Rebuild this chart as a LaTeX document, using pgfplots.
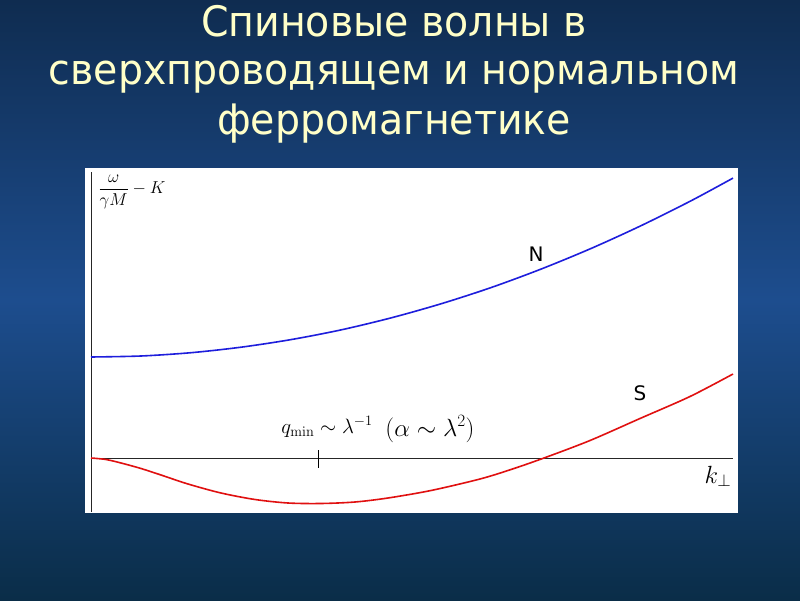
\documentclass[border=0pt]{standalone}
\usepackage[no-math]{fontspec}
\setmainfont{DejaVu Sans}
\newfontfamily\titlefont[FakeStretch=0.94]{DejaVu Sans}
\usepackage{pgfplots}
\pgfplotsset{compat=1.18}

\definecolor{bgtop}{HTML}{0F2C50}
\definecolor{bgmid}{HTML}{1D4D8E}
\definecolor{bgbot}{HTML}{0A2D48}
\definecolor{titlecol}{HTML}{FFFFC8}
\definecolor{ncol}{HTML}{1E1EDC}
\definecolor{scol}{HTML}{E01010}

% curves, in pixel units relative to the axis origin
\pgfplotstableread{
x y
0 101
50 102
100 105.3
150 110.8
200 118.4
250 128.1
300 140.1
350 154.2
400 170.4
450 188.9
500 209.5
550 232.3
600 257.2
642 279.9
}\normal

\pgfplotstableread{
x y
0 0
15 -1.5
30 -5
50 -10.5
70 -17
97 -26
130 -35
164 -41.5
197 -45
230 -45.5
264 -44
297 -40
340 -32.5
389 -21
420 -11.5
453 0
499 17.5
549 39.5
599 61.5
642 84
}\super

\begin{document}
\begin{tikzpicture}[x=1pt,y=1pt]
\shade[top color=bgtop, bottom color=bgbot, middle color=bgmid] (0,0) rectangle (800,600);
\useasboundingbox (0,0) rectangle (800,600);

% title
\foreach \t/\yy in {{Спиновые волны в}/563, {сверхпроводящем и нормальном}/515, {ферромагнетике}/465}{
  \node[anchor=base, text=titlecol, font=\titlefont\fontsize{42}{48}\selectfont] at (394,\yy) {\t};
}

\fill[white] (85,87) rectangle (738,432);

\begin{axis}[
  at={(91pt,88pt)}, anchor=south west,
  x=1pt, y=1pt,
  xmin=0, xmax=642, ymin=-54, ymax=286,
  axis lines=middle,
  axis line style={-, black!85, line width=0.8pt},
  ticks=none,
  clip=false,
]
\addplot[ncol, line width=1.6pt, smooth] table {\normal};
\addplot[scol, line width=1.6pt, smooth] table {\super};
\addplot[black, line width=0.8pt] coordinates {(227,8) (227,-10)};

\node[font=\fontsize{20}{24}\selectfont] at (axis cs:445,204) {N};
\node[font=\fontsize{20}{24}\selectfont] at (axis cs:549,65) {S};
\node[anchor=base, font=\fontsize{21}{25}\selectfont] at (axis cs:236,25) {$q_{\mathrm{min}}\sim\lambda^{-1}$};
\node[anchor=base, font=\fontsize{25}{30}\selectfont] at (axis cs:339,22) {$(\alpha\sim\lambda^{2})$};
\node[anchor=base, font=\fontsize{24}{28}\selectfont] at (axis cs:627,-25) {$k_{\perp}$};
\node[anchor=west, font=\fontsize{16}{20}\selectfont] at (axis cs:4,266) {$\displaystyle\frac{\omega}{\gamma M}-K$};
\end{axis}
\end{tikzpicture}
\end{document}
